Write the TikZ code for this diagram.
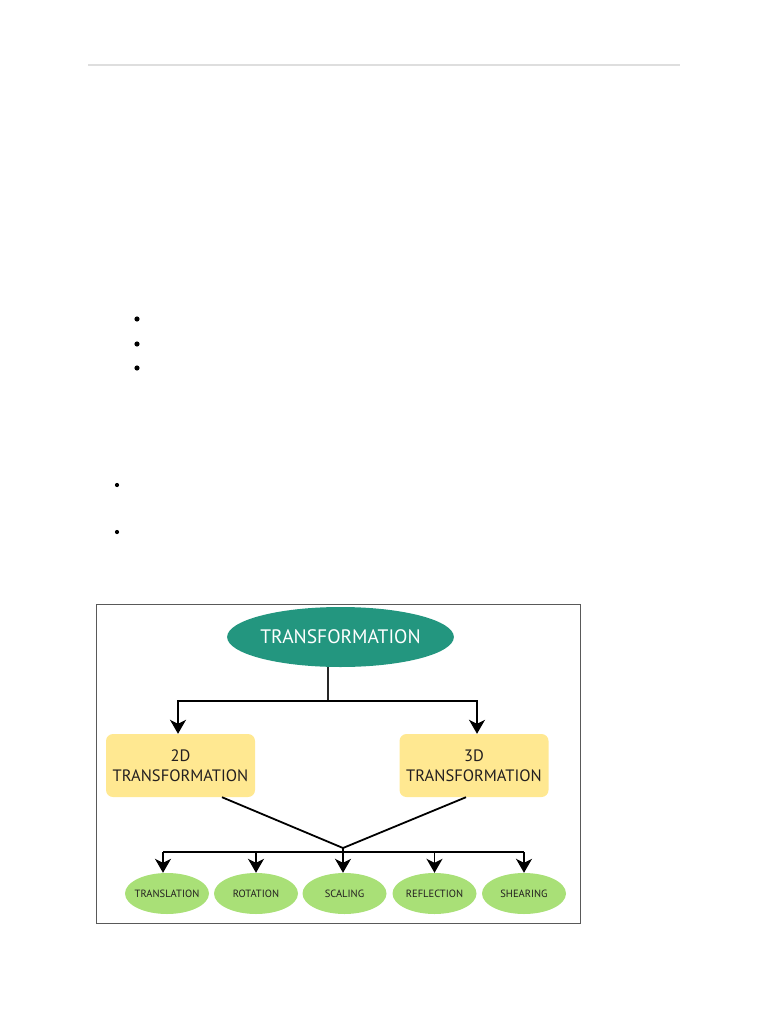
\documentclass[tikz,border=0pt]{standalone}
\usepackage{fontspec}
\setmainfont{PT Sans}
\usetikzlibrary{shapes.geometric,arrows.meta,calc}
\definecolor{tealc}{HTML}{23967F}
\definecolor{boxy}{HTML}{FFE891}
\definecolor{leafg}{HTML}{A9E077}
\definecolor{txtd}{HTML}{231F20}
\newcommand{\leaftext}[1]{\makebox[0pt]{#1}}
\begin{document}
\begin{tikzpicture}[x=1pt,y=-1pt,
  topn/.style={ellipse, fill=tealc, minimum width=225pt, minimum height=60pt, inner sep=0pt, text=white, font=\fontsize{19.5}{19.5}\selectfont},
  boxn/.style={rectangle, rounded corners=7pt, fill=boxy, minimum width=149pt, minimum height=63pt, inner sep=0pt, align=center, text=txtd, font=\fontsize{16.5}{20}\selectfont},
  leaf/.style={ellipse, fill=leafg, minimum width=84pt, minimum height=41pt, inner sep=0pt, text=txtd, font=\fontsize{10.5}{10.5}\selectfont},
  conn/.style={line width=1.8pt, black},
  arr/.style={conn, -{Stealth[length=14pt,width=16pt,inset=4pt]}},
  frame/.style={line width=1pt, draw=black!65},
  rule/.style={line width=1.5pt, draw=black!13},
  dot/.style={fill=black}
]
\useasboundingbox (0,0) rectangle (768,1024);
% page rule and bullets
\draw[rule] (88,65) -- (680,65);
\fill[dot] (137,319) circle (2.6);
\fill[dot] (137,344) circle (2.6);
\fill[dot] (137,368) circle (2.6);
\fill[dot] (117,485) circle (2.1);
\fill[dot] (117,532) circle (2.1);
% frame
\draw[frame] (96,604) rectangle (580,923);
% nodes
\node[topn] (T) at (340.5,637) {TRANSFORMATION};
\node[boxn] (D2) at (180.5,765.5) {2D\\TRANSFORMATION};
\node[boxn] (D3) at (474,765.5) {3D\\TRANSFORMATION};
\node[leaf] (L1) at (167,893.5) {\leaftext{TRANSLATION}};
\node[leaf] (L2) at (256,893.5) {\leaftext{ROTATION}};
\node[leaf] (L3) at (344.5,893.5) {\leaftext{SCALING}};
\node[leaf] (L4) at (434.5,893.5) {\leaftext{REFLECTION}};
\node[leaf] (L5) at (524,893.5) {\leaftext{SHEARING}};
% top connectors
\coordinate (s) at (328,701);
\coordinate (t0) at ($(T.south)+(-12.5,0)$);
\coordinate (d2n) at ($(D2.north)+(-2.5,0)$);
\coordinate (d3n) at ($(D3.north)+(3,0)$);
\draw[line width=1.4pt, black!85] (t0) -- (s);
\draw[arr] (s) -| (d2n);
\draw[arr] (s) -| (d3n);
% merge to leaves
\coordinate (j) at (343,848);
\coordinate (b) at (343,852);
\coordinate (d2s) at ($(D2.south)+(41.5,0)$);
\coordinate (d3s) at ($(D3.south)+(-8,0)$);
\coordinate (l1n) at ($(L1.north)+(-4,0)$);
\coordinate (l3n) at ($(L3.north)+(-1.5,0)$);
\draw[conn] (d2s) -- (j);
\draw[conn] (d3s) -- (j);
\draw[conn] (j) -- (b);
\draw[conn] (l1n |- b) -- (L5.north |- b);
\draw[arr] (l1n |- b) -- (l1n);
\draw[arr] (L2.north |- b) -- (L2.north);
\draw[arr] (l3n |- b) -- (l3n);
\draw[arr] (L4.north |- b) -- (L4.north);
\draw[arr] (L5.north |- b) -- (L5.north);
\end{tikzpicture}
\end{document}
